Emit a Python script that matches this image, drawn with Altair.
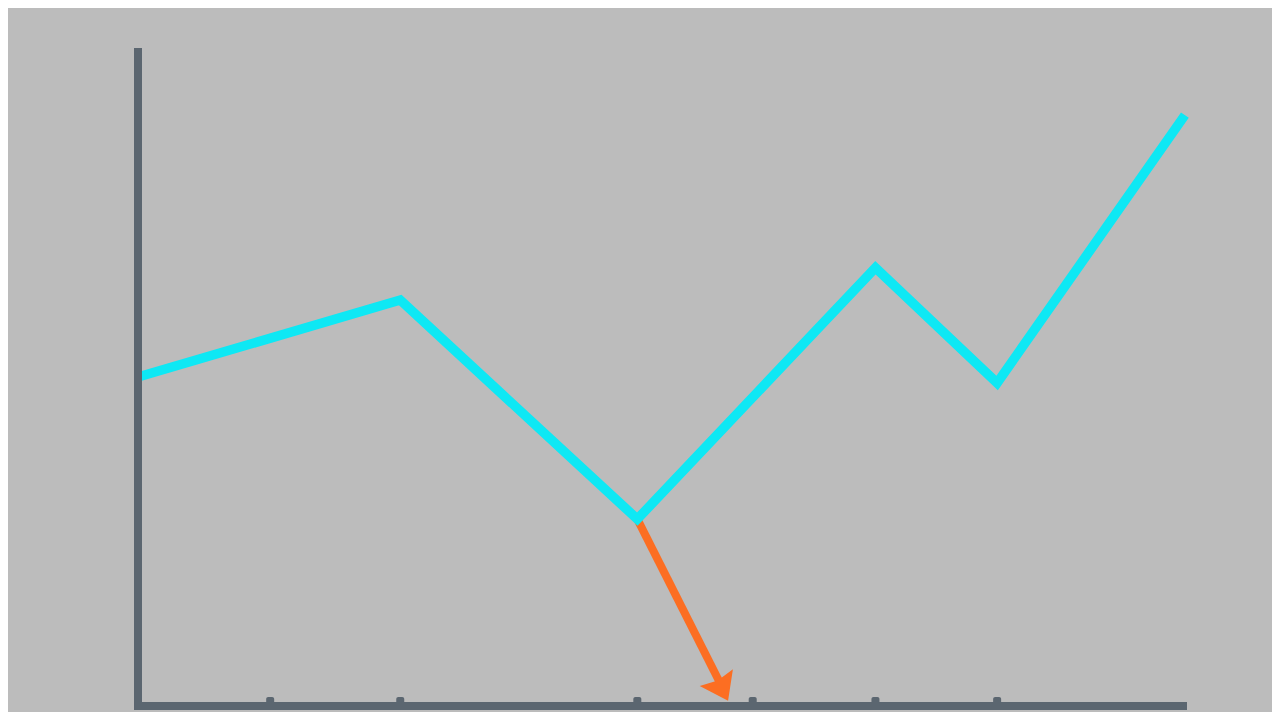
import altair as alt
import pandas as pd

# Values (x: 0-100 along the horizontal axis, y: 0-100 up the vertical axis)
line_x = [0.0, 25.0, 47.6, 70.3, 81.9, 99.8]
line_y = [50.0, 61.7, 28.4, 66.6, 49.1, 89.8]
tick_x = [12.6, 25.0, 47.6, 58.6, 70.3, 81.9]
arrow_x = [47.6, 55.45]
arrow_y = [28.4, 3.6]
head_x = [55.55]
head_y = [3.0]

BG = "#bcbcbc"
AXIS = "#5b6670"
CYAN = "#0ee8f4"
ORANGE = "#fc6e22"
ARROW_SHAPE = "M0,-1 L1.15,0.6 L0,0.4 L-1.15,0.6 Z"

xs = alt.Scale(domain=[0, 100], nice=False, zero=False)
ys = alt.Scale(domain=[0, 100], nice=False, zero=False)

line_df = pd.DataFrame({"x": line_x, "y": line_y, "o": range(len(line_x))})
tick_df = pd.DataFrame({"x": tick_x, "y": [0] * len(tick_x)})
arrow_df = pd.DataFrame({"x": arrow_x, "y": arrow_y, "o": range(len(arrow_x))})
head_df = pd.DataFrame({"x": head_x, "y": head_y})
vaxis_df = pd.DataFrame({"x": [0], "y": [-0.6], "y2": [100]})
haxis_df = pd.DataFrame({"x": [-0.35], "x2": [100], "y": [0]})

line = alt.Chart(line_df).mark_line(
    color=CYAN, strokeWidth=9.5, strokeCap="butt", strokeJoin="miter"
).encode(
    x=alt.X("x:Q", scale=xs, axis=None),
    y=alt.Y("y:Q", scale=ys, axis=None),
    order="o:Q",
)

arrow = alt.Chart(arrow_df).mark_line(
    color=ORANGE, strokeWidth=8, strokeCap="butt"
).encode(
    x=alt.X("x:Q", scale=xs, axis=None),
    y=alt.Y("y:Q", scale=ys, axis=None),
    order="o:Q",
)

head = alt.Chart(head_df).mark_point(
    shape=ARROW_SHAPE, filled=True, color=ORANGE, opacity=1, size=1050, angle=153
).encode(
    x=alt.X("x:Q", scale=xs, axis=None),
    y=alt.Y("y:Q", scale=ys, axis=None),
)

ticks = alt.Chart(tick_df).mark_tick(
    color=AXIS, thickness=8, size=9, yOffset=-4.5, cornerRadius=2, orient="vertical", opacity=1
).encode(
    x=alt.X("x:Q", scale=xs, axis=None),
    y=alt.Y("y:Q", scale=ys, axis=None),
)

vaxis = alt.Chart(vaxis_df).mark_rule(color=AXIS, strokeWidth=8, strokeCap="butt").encode(
    x=alt.X("x:Q", scale=xs, axis=None),
    y=alt.Y("y:Q", scale=ys, axis=None),
    y2="y2:Q",
)

haxis = alt.Chart(haxis_df).mark_rule(color=AXIS, strokeWidth=8, strokeCap="butt").encode(
    x=alt.X("x:Q", scale=xs, axis=None),
    x2="x2:Q",
    y=alt.Y("y:Q", scale=ys, axis=None),
)

chart = alt.layer(arrow, head, line, ticks, vaxis, haxis).properties(
    width=1049,
    height=658,
    background=BG,
    padding={"left": 130, "top": 40, "right": 85, "bottom": 6},
    autosize=alt.AutoSizeParams(type="none"),
).configure_view(stroke=None)

chart.save("out.html", embed_options={"renderer": "svg", "actions": False})
